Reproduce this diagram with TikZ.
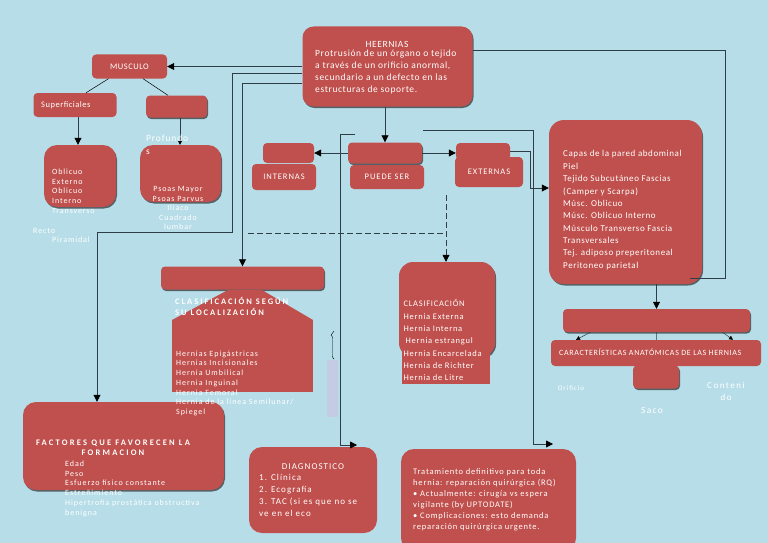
\documentclass[tikz,border=0pt]{standalone}
\usepackage{fontspec}
\setmainfont{Carlito}[LetterSpace=5]
\usetikzlibrary{arrows.meta, shapes, positioning, shadows, decorations.pathreplacing}

\definecolor{fondo}{HTML}{B7DDE8}
\definecolor{rojo}{HTML}{C0504D}
\definecolor{linea}{HTML}{2E3E48}
\definecolor{lila}{HTML}{C4CCE4}

\newcommand{\letra}[3]{\addfontfeature{LetterSpace=#3}\fontsize{#1}{#2}\selectfont}

\tikzset{
  caja/.style={fill=rojo, rounded corners=4pt, inner sep=0pt},
  cajag/.style={fill=rojo, rounded corners=13pt, inner sep=0pt},
  sombra/.style={drop shadow={shadow xshift=1pt, shadow yshift=-1.5pt, fill=black, opacity=0.55}},
  conn/.style={draw=linea, line width=0.8pt},
  flecha/.style={conn, -{Triangle[length=7pt, width=7pt, color=black]}},
  flechita/.style={conn, line width=0.5pt, -{Triangle[length=4pt, width=4pt, color=black]}},
  rayas/.style={conn, dashed, dash pattern=on 6pt off 3pt},
  txt/.style={text=white, inner sep=0pt, align=left},
}

\begin{document}
\begin{tikzpicture}[x=1pt, y=-1pt]

\useasboundingbox (0,0) rectangle (768,543);
\fill[fondo] (0,0) rectangle (768,543);

% cajas
\node[cajag, sombra, rounded corners=11pt, minimum width=170, minimum height=80] (hern) at (387.5,66.5) {};
\node[caja, minimum width=75, minimum height=24] (musc) at (129.5,66.5) {};
\node[caja, minimum width=83, minimum height=24] (sup) at (75,105) {};
\node[caja, sombra, minimum width=61, minimum height=22] (prof) at (176.5,106.5) {};
\node[cajag, sombra, minimum width=72, minimum height=62] (supl) at (80,176) {};
\node[cajag, sombra, minimum width=81, minimum height=57] (profl) at (180.5,173.5) {};

\node[caja, sombra, minimum width=74, minimum height=21] (puedeA) at (385,153) {};
\node[caja, minimum width=74, minimum height=24] (puede) at (387,177) {};
\node[caja, minimum width=51, minimum height=20] (intA) at (288.5,153) {};
\node[caja, minimum width=64, minimum height=26] (intL) at (284,177) {};
\node[caja, minimum width=54, minimum height=17] (extA) at (483,151.5) {};
\node[caja, minimum width=68, minimum height=30] (extL) at (489,172) {};

\node[cajag, sombra, rounded corners=15pt, minimum width=153, minimum height=164] (capas) at (625.5,202) {};
\node[caja, sombra, minimum width=187, minimum height=23] (caracA) at (656.5,320.5) {};
\draw[flechita] (caracA.south) -- (656,366);
\node[caja, minimum width=210, minimum height=26] (caracL) at (656,353) {};
\node[caja, sombra, minimum width=46, minimum height=23] (saco) at (656,377) {};

\node[cajag, sombra, rounded corners=14pt, minimum width=96, minimum height=95] (clasif) at (447,309.5) {};
\node[fill=rojo, inner sep=0pt, minimum width=88, minimum height=88] (clasifT) at (446,340) {};

\node[caja, sombra, minimum width=163, minimum height=23] (locA) at (242.5,278) {};
\fill[rojo] (228,290) -- (262,290) -- (313,320) -- (172,320) -- cycle;
\node[fill=rojo, inner sep=0pt, minimum width=141, minimum height=72] (locT) at (242.5,356) {};
\draw[decorate, decoration={brace, amplitude=3pt, aspect=0.85}] (334,359) -- (334,331);
\fill[lila] (327,360) rectangle (338,417);

\node[cajag, sombra, minimum width=201, minimum height=88] (factors) at (123.5,446) {};
\node[cajag, minimum width=128, minimum height=86] (diag) at (313,490) {};
\node[cajag, minimum width=175, minimum height=102] (trat) at (488.5,500) {};

% conectores
\coordinate (dtop) at (446,195);
\coordinate (dleft) at (248,233);
\coordinate (dgini) at (355,134);
\coordinate (dgfin) at (357,445);
\coordinate (trini) at (423,130);
\coordinate (trfin) at (553,444);

\draw[flecha] (hern.west) -- (musc.east);
\draw[conn, line width=0.5pt, draw=black] ([xshift=-21pt]musc.south) -- ([xshift=11pt]sup.north);
\draw[conn, line width=0.5pt, draw=black] ([xshift=13.5pt]musc.south) -- ([xshift=-8.5pt]prof.north);
\draw[flecha] ([xshift=3pt]sup.south) -- ([xshift=-2pt]supl.north);
\draw[flechita] ([xshift=3.5pt]prof.south) -- ([xshift=-0.5pt]profl.north);

\draw[flecha] (puedeA.north |- hern.south) -- (puedeA.north);
\draw[flecha] (puedeA.west) -- (intA.east);
\draw[flecha] (puedeA.east) -- (puedeA.east -| extA.west);
\draw[flecha] (extA.east) -- ++(20,0) |- ([yshift=14pt]capas.west);
\draw[conn] ([yshift=16pt]hern.east) -| (725,278) -- ([xshift=-12pt,yshift=-76pt]capas.east);
\draw[flecha] (caracA.north |- capas.south) -- (caracA.north);
\draw[flechita] ([xshift=-66pt]caracA.south) -- ([xshift=-80pt]caracL.north);
\draw[flechita] ([xshift=66pt]caracA.south) -- ([xshift=77pt]caracL.north);

\draw[flecha] ([yshift=-6.5pt]hern.west) -| (232,232) -| ([xshift=-26.5pt]factors.north);
\draw[flecha] ([yshift=-16.5pt]hern.west) -| (locA.north);
\draw[rayas, -{Triangle[length=7pt, width=7pt, color=black]}] (dtop) -- (dtop |- clasif.north);
\draw[rayas] (dleft) -- (dleft -| dtop);
\draw[flecha] (dgini) -- ++(-15,0) |- (dgfin);
\draw[flecha] (trini) -- ++(110,0) |- (trfin);

% textos
\node[txt, font=\letra{9.5}{12}{6}] (hernT) at (387,44) {HEERNIAS};
\node[txt, anchor=north west, font=\letra{9.5}{12.2}{6.5}] (hernD) at (315,49.5)
  {Protrusión de un órgano o tejido\\a través de un orificio anormal,\\secundario a un defecto en las\\estructuras de soporte.};
\node[txt, font=\letra{8.5}{10}{6}] (muscT) at (129.5,66.5) {MUSCULO};
\node[txt, anchor=west, font=\letra{8.5}{10}{6}] (supT) at (41,105) {Superficiales};
\node[txt, anchor=north west, font=\letra{8}{9.8}{11}] (suplT) at (52,168.5)
  {Oblicuo\\Externo\\Oblicuo\\Interno\\Transverso};
\node[txt, anchor=west, font=\letra{8}{9}{11}] (recto) at (33,231) {Recto};
\node[txt, anchor=west, font=\letra{8}{9}{11}] (piram) at (52,240) {Piramidal};
\node[txt, anchor=west, font=\letra{9.5}{10}{9}] (profT) at (146,138) {Profundo};
\node[txt, anchor=west, font=\letra{9.5}{10}{9}] (profS) at (146,152) {s};
\node[txt, anchor=north, align=center, font=\letra{8}{9.4}{11}] (proflT) at (178,186.5)
  {Psoas Mayor\\Psoas Parvus\\Iliaco\\Cuadrado\\lumbar};

\node[txt, font=\letra{8.5}{10}{11}] (intT) at (284,177) {INTERNAS};
\node[txt, font=\letra{8.5}{10}{11}] (puedeT) at (387,177) {PUEDE SER};
\node[txt, font=\letra{8.5}{10}{11}] (extT) at (489,172) {EXTERNAS};

\node[txt, anchor=north west, font=\letra{9}{12.35}{6.5}] (capasT) at (563,150.5)
  {Capas de la pared abdominal\\Piel\\Tejido Subcutáneo Fascias\\(Camper y Scarpa)\\Músc. Oblicuo\\Músc. Oblicuo Interno\\Músculo Transverso Fascia\\Transversales\\Tej. adiposo preperitoneal\\Peritoneo parietal};

\node[txt, anchor=west, font=\letra{8}{10}{8}] (caracT) at (559,352) {CARACTERÍSTICAS ANATÓMICAS DE LAS HERNIAS};
\node[txt, font=\letra{7}{8}{13}] (orif) at (571,388) {Orificio};
\node[txt, font=\letra{9.5}{10}{13}] (sacoT) at (652,410) {Saco};
\node[txt, align=center, font=\letra{9}{12}{17}] (cont) at (726,391) {Conteni\\do};

\node[txt, anchor=north west, font=\letra{8.5}{12.3}{8.5}] (clasifL) at (403.5,299.5)
  {CLASIFICACIÓN\\Hernia Externa\\Hernia Interna\\\hspace{2pt}Hernia estrangul\\Hernia Encarcelada\\Hernia de Richter\\Hernia de Litre};

\node[txt, anchor=north west, font=\bfseries\letra{8.5}{11}{23}] (locT1) at (175,297.5)
  {CLASIFICACIÓN SEGÚN\\SU LOCALIZACIÓN};
\node[txt, anchor=north west, font=\letra{8}{9.7}{12}] (locL) at (176,350.5)
  {Hernias Epigástricas\\Hernias Incisionales\\Hernia Umbilical\\Hernia Inguinal\\Hernia Femoral\\Hernia de la línea Semilunar/\\Spiegel};

\node[txt, anchor=north, align=center, font=\bfseries\letra{8.5}{10}{26}] (factT) at (113,439.5)
  {FACTORES QUE FAVORECEN LA\\FORMACION};
\node[txt, anchor=north west, font=\letra{8}{9.8}{12}] (factL) at (65,460.5)
  {Edad\\Peso\\Esfuerzo físico constante\\Estreñimiento\\Hipertrofia prostática obstructiva\\benigna};

\node[txt, font=\letra{9}{10}{11.5}] (diagT) at (313,467) {DIAGNOSTICO};
\node[txt, anchor=north west, font=\letra{9}{12}{11.5}] (diagL) at (259,474.5)
  {1. Clínica\\2. Ecografía\\3. TAC (si es que no se\\ve en el eco};

\node[txt, anchor=north west, font=\letra{8.5}{11}{9.5}] (tratL) at (413,468.5)
  {Tratamiento definitivo para toda\\hernia: reparación quirúrgica (RQ)\\• Actualmente: cirugía vs espera\\vigilante (by UPTODATE)\\• Complicaciones: esto demanda\\reparación quirúrgica urgente.};

\end{tikzpicture}
\end{document}
